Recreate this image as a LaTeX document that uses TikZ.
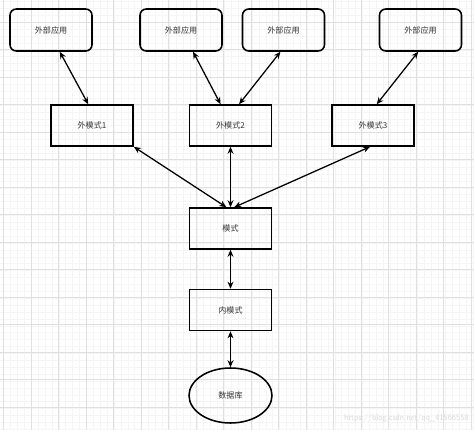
\documentclass[tikz,border=0pt]{standalone}
\usepackage{fontspec}
\newfontfamily\cjk{Noto Sans CJK SC}
\usetikzlibrary{arrows.meta,shapes.geometric}

\begin{document}
\begin{tikzpicture}[x=0.05cm, y=-0.05cm,
  app/.style={draw, line width=2.2pt, rounded corners=9pt, minimum width=4.1cm, minimum height=2.1cm, font=\cjk\fontsize{11.5}{13}\selectfont, text=black!80},
  box/.style={draw, line width=2.2pt, minimum width=4.1cm, minimum height=2.05cm, font=\cjk\fontsize{11.5}{13}\selectfont, text=black!80},
  link/.style={{Stealth[length=10pt,width=8.5pt]}-{Stealth[length=10pt,width=8.5pt]}, line width=1.8pt}]
\useasboundingbox (0,0) rectangle (474,430);
\fill[white] (0,0) rectangle (474,430);

\foreach \x in {3.5,10.4,...,474} \draw[black!4, line width=0.3pt] (\x,0) -- (\x,430);
\foreach \y in {1.4,8.3,...,430} \draw[black!4, line width=0.3pt] (0,\y) -- (474,\y);
\foreach \x in {3.5,31,...,474} \draw[black!12, line width=0.6pt] (\x,0) -- (\x,430);
\foreach \y in {22,49.5,...,430} \draw[black!12, line width=0.6pt] (0,\y) -- (474,\y);

\node[app] (app1) at (51, 30) {外部应用};
\node[app] (app2) at (181, 30) {外部应用};
\node[app] (app3) at (283.5, 30) {外部应用};
\node[app] (app4) at (420.5, 30) {外部应用};

\node[box] (ext1) at (92, 125.5) {外模式1};
\node[box] (ext2) at (230.5, 125.5) {外模式2};
\node[box] (ext3) at (373, 125.5) {外模式3};

\node[box] (mode) at (230.5, 228.5) {模式};
\node[box] (inner) at (230.5, 310) {内模式};
\node[draw, ellipse, line width=2.2pt, minimum width=4.15cm, minimum height=2.75cm, font=\cjk\fontsize{11.5}{13}\selectfont, text=black!80] (db) at (230.5, 395.5) {数据库};

\draw[link] (app1.-68) -- (ext1.100);
\draw[link] (app2.-61) -- (ext2.115);
\draw[link] (app3.-98) -- (ext2.68);
\draw[link] (app4.-96) -- (ext3.80);

\draw[link] (ext1.south east) -- (mode.101);
\draw[link] (ext2.south) -- (mode.north);
\draw[link] (ext3.-98) -- (mode.80);

\draw[link] (mode.south) -- (inner.north);
\draw[link] (inner.south) -- (db.north);

\node[text=black!15, font=\sffamily\fontsize{12}{13}\selectfont, anchor=east] (mark) at (471, 418) {https://blog.csdn.net/qq\_41566558};

\end{tikzpicture}
\end{document}
